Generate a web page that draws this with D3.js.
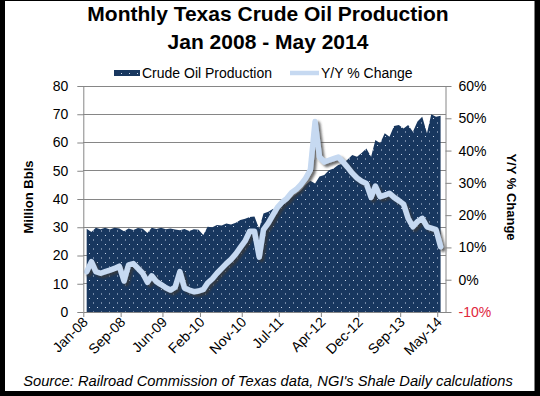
<!DOCTYPE html>
<html><head><meta charset="utf-8">
<script src="https://cdn.jsdelivr.net/npm/d3@7"></script>
<style>
html,body{margin:0;padding:0;background:#fff}
svg{display:block;font-family:'Liberation Sans',Arial,sans-serif}
</style></head><body>
<div id="chart"></div>
<script>
/* Monthly Texas crude oil production, Jan 2008 - May 2014 */
const tickLabels = ['Jan-08','Sep-08','Jun-09','Feb-10','Nov-10','Jul-11','Apr-12','Dec-12','Sep-13','May-14'];
const leftTicks = [0,10,20,30,40,50,60,70,80];
const rightTicks = [-10,0,10,20,30,40,50,60];

// Million Bbls, Jan 2008 .. May 2014
const production = [
  29.5,28.3,29.8,29.3,29.8,29.2,29.8,29.6,28.6,29.6,29.0,29.7,
  29.5,28.0,29.8,29.4,29.8,29.3,29.6,29.2,28.9,29.4,28.7,29.3,
  29.1,27.3,30.2,30.0,30.8,30.6,31.3,31.0,31.6,32.6,33.0,33.6,
  33.8,29.5,34.9,35.5,36.5,37.3,38.0,39.0,40.5,41.8,43.0,45.0,
  46.5,45.5,48.0,48.5,50.2,50.8,52.0,52.6,54.0,55.6,55.0,56.3,
  57.9,55.0,60.9,59.7,63.3,62.0,65.8,66.2,65.0,66.2,63.8,67.4,
  69.1,63.3,70.0,69.1,69.5
];
// Y/Y % change
const yoyChange = [
  2.5,5.6,2.5,2.0,2.5,3.0,3.5,4.2,-0.4,4.6,5.0,3.5,
  2.0,-0.8,1.2,-0.6,-1.5,-2.5,-3.2,-2.3,2.5,-2.6,-3.2,-3.7,
  -3.5,-3.0,-1.0,0.3,2.0,3.5,5.0,6.3,8.0,10.0,12.0,15.0,
  15.0,7.0,15.5,17.5,20.0,22.5,24.0,25.2,27.0,28.0,29.5,31.4,
  34.0,49.0,38.0,36.5,37.0,37.5,38.0,36.5,34.8,33.0,31.5,30.5,
  29.8,25.5,29.0,25.7,26.2,26.8,25.5,24.5,23.4,19.0,16.4,18.0,
  19.0,16.4,16.0,15.5,10.2
];

const W = 540, H = 396;
const M = { l: 83.3, r: 94.5, t: 86, b: 84 };
const AREA = '#18375f', LINE = '#c6d9f1', GRID = '#868686';

const months = d3.timeMonth.range(new Date(2008,0,1), new Date(2014,5,1));
const at = d => d3.timeDay.offset(d, 22);
const parseM = d3.timeParse('%b-%y');

const x = d3.scaleTime()
  .domain([new Date(2008,0,1), new Date(2014,5,24)])
  .range([M.l, W - M.r]);
const y = d3.scaleLinear().domain([0, 80]).range([H - M.b, M.t]);
const yR = d3.scaleLinear().domain([-10, 60]).range([H - M.b, M.t]);

const svg = d3.select('#chart').append('svg')
  .attr('width', W).attr('height', H);

const defs = svg.append('defs');
// dotted fill like the Excel pattern
const pat = defs.append('pattern').attr('id', 'dots')
  .attr('patternUnits', 'userSpaceOnUse').attr('width', 8).attr('height', 9);
pat.append('rect').attr('width', 8).attr('height', 9).attr('fill', AREA);
pat.append('rect').attr('x', 1).attr('y', 1).attr('width', 1).attr('height', 1).attr('fill', '#c9d5e8');
pat.append('rect').attr('x', 5).attr('y', 5.5).attr('width', 1).attr('height', 1).attr('fill', '#c9d5e8');

const sh = defs.append('filter').attr('id', 'shadow')
  .attr('x', '-10%').attr('y', '-10%').attr('width', '130%').attr('height', '130%');
sh.append('feDropShadow').attr('dx', 2.5).attr('dy', 2.5).attr('stdDeviation', 1.2)
  .attr('flood-color', '#3a3a3a').attr('flood-opacity', 0.75);

// frame
svg.append('rect').attr('width', W).attr('height', H).attr('fill', '#000');
svg.append('rect').attr('x', 5).attr('y', 1).attr('width', W - 10.5).attr('height', H - 6).attr('fill', '#fff');

// title
const title = svg.append('text').attr('text-anchor', 'middle')
  .attr('font-weight', 'bold').attr('font-size', '21px').attr('fill', '#000');
title.append('tspan').attr('x', 268).attr('y', 21).text('Monthly Texas Crude Oil Production');
title.append('tspan').attr('x', 268).attr('y', 49).text('Jan 2008 - May 2014');

// gridlines
svg.append('g').selectAll('line').data(leftTicks.slice(1)).join('line')
  .attr('x1', M.l).attr('x2', W - M.r)
  .attr('y1', d => y(d)).attr('y2', d => y(d))
  .attr('stroke', GRID).attr('stroke-width', 1).attr('shape-rendering', 'crispEdges');

// production area
svg.append('path').datum(production)
  .attr('fill', 'url(#dots)')
  .attr('d', d3.area()
    .x((d, i) => x(at(months[i])))
    .y0(y(0)).y1(d => y(d)));

// Y/Y line
svg.append('path').datum(yoyChange)
  .attr('fill', 'none').attr('stroke', LINE).attr('stroke-width', 5.5)
  .attr('stroke-linejoin', 'round').attr('stroke-linecap', 'round')
  .attr('filter', 'url(#shadow)')
  .attr('d', d3.line()
    .x((d, i) => x(at(months[i])))
    .y(d => yR(d)));

// axes
const styleAxis = g => {
  g.selectAll('.domain, .tick line').attr('stroke', GRID);
  g.selectAll('text').attr('font-size', '14px').attr('fill', '#000')
    .attr('font-family', "'Liberation Sans',Arial,sans-serif");
};

svg.append('g').attr('transform', `translate(${M.l},0)`)
  .call(d3.axisLeft(y).tickValues(leftTicks).tickSize(6).tickPadding(9).tickSizeOuter(0))
  .call(styleAxis);

svg.append('g').attr('transform', `translate(${W - M.r},0)`)
  .call(d3.axisRight(yR).tickValues(rightTicks).tickSize(6).tickPadding(7).tickSizeOuter(0)
    .tickFormat(d => d + '%'))
  .call(styleAxis)
  .call(g => g.selectAll('text').attr('fill', d => d < 0 ? '#e0263c' : '#000'));

svg.append('g').attr('transform', `translate(0,${H - M.b})`)
  .call(d3.axisBottom(x).tickValues(tickLabels.map(parseM)).tickSize(5).tickSizeOuter(0)
    .tickFormat(d3.timeFormat('%b-%y')))
  .call(styleAxis)
  .call(g => g.selectAll('text')
    .attr('text-anchor', 'end').attr('dy', 0).attr('y', 0)
    .attr('transform', 'translate(5,11) rotate(-45)'));

// axis titles
svg.append('text').attr('transform', 'translate(33,197) rotate(-90)')
  .attr('text-anchor', 'middle').attr('font-weight', 'bold').attr('font-size', '13px')
  .text('Million Bbls');
svg.append('text').attr('transform', 'translate(507,197) rotate(90)')
  .attr('text-anchor', 'middle').attr('font-weight', 'bold').attr('font-size', '13px')
  .text('Y/Y % Change');

// legend
const lg = svg.append('g').attr('font-size', '14px');
lg.append('rect').attr('x', 114).attr('y', 70).attr('width', 26).attr('height', 6).attr('fill', 'url(#dots)');
lg.append('text').attr('x', 142).attr('y', 78).text('Crude Oil Production');
lg.append('line').attr('x1', 290).attr('x2', 319).attr('y1', 73).attr('y2', 73)
  .attr('stroke', LINE).attr('stroke-width', 4.5);
lg.append('text').attr('x', 321).attr('y', 78).text('Y/Y % Change');

// source
svg.append('text').attr('x', 268).attr('y', 386).attr('text-anchor', 'middle')
  .attr('font-style', 'italic').attr('font-size', '14.7px')
  .text("Source: Railroad Commission of Texas data, NGI's Shale Daily calculations");
</script>
</body></html>
